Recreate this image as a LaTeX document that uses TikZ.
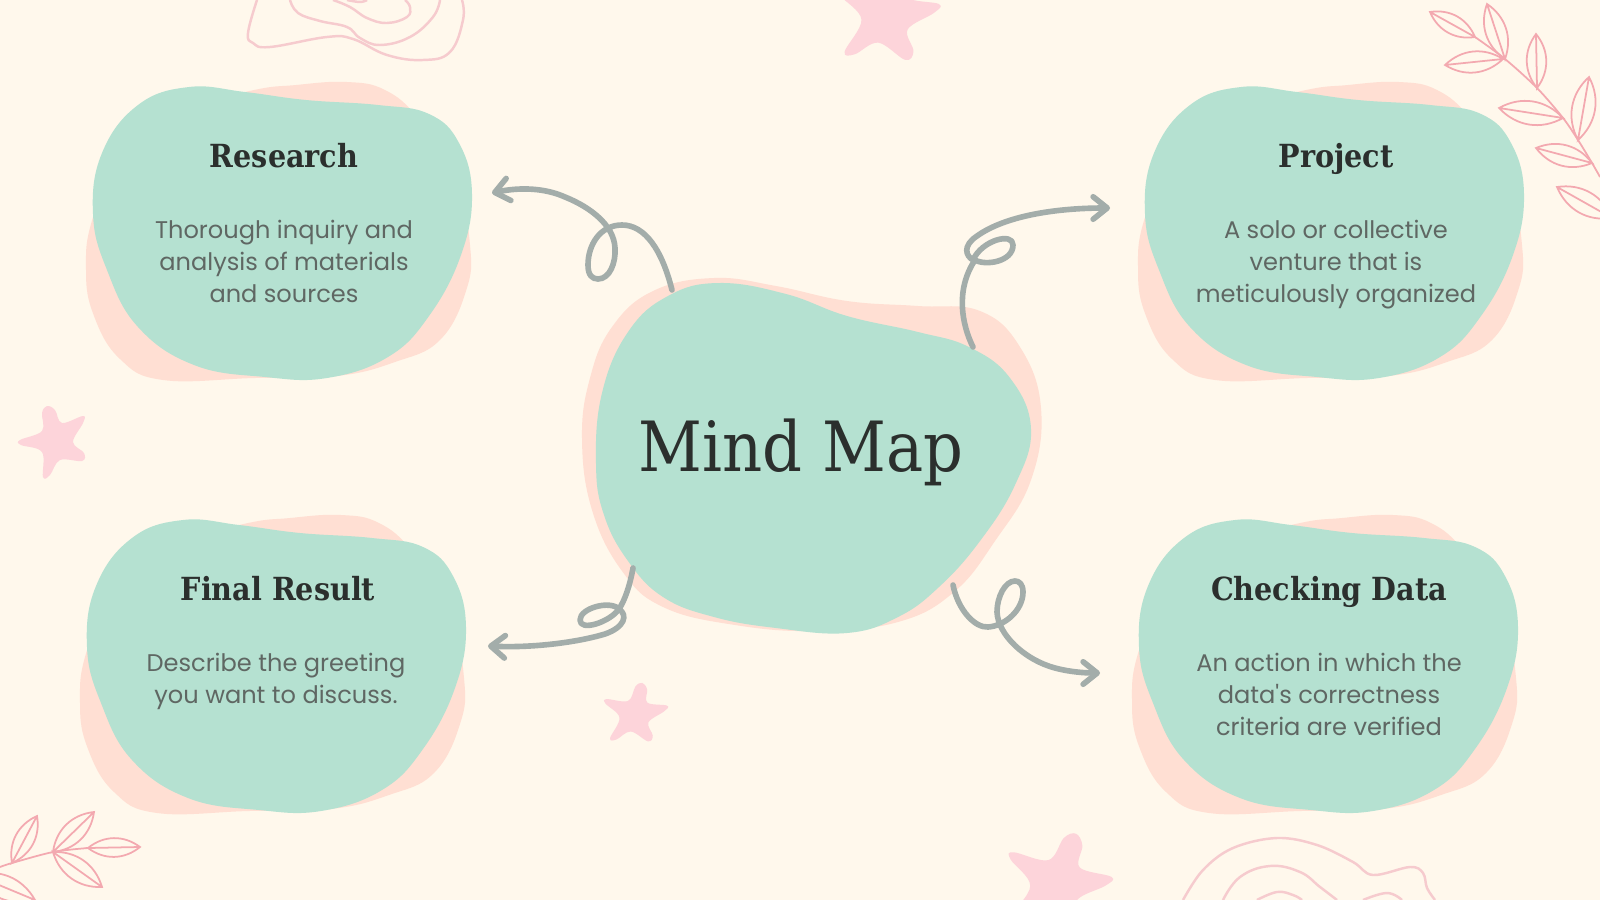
\documentclass[tikz,border=0pt]{standalone}
\usepackage{fontspec}
\usetikzlibrary{arrows.meta}
\setmainfont{Poppins}
\newfontfamily\headfont{DejaVu Serif Condensed}

\definecolor{paper}{HTML}{FFF8EC}
\definecolor{mint}{HTML}{B5E1D1}
\definecolor{peach}{HTML}{FFDFD3}
\definecolor{starpink}{HTML}{FDD4DA}
\definecolor{leafpink}{HTML}{F3A9B0}
\definecolor{swirlpink}{HTML}{F6CBCE}
\definecolor{arrowgrey}{HTML}{A3ADAA}
\definecolor{headink}{HTML}{2B2F2D}
\definecolor{bodyink}{HTML}{5F6763}

\newcommand{\leaf}[2]{\draw[leafline] (#1) to[bend left=38] (#2) to[bend left=38] (#1) -- (#2);}

\tikzset{
    blobmint/.pic={\fill[mint] plot[smooth cycle, tension=0.7] coordinates {(189,87) (245,92) (306,100) (378,105) (429,114) (459,143) (472,194) (461,255) (429,316) (388,357) (327,378) (265,377) (194,365) (138,327) (107,270) (93,214) (102,153) (138,105)};},
    blobpeach/.pic={\fill[peach] plot[smooth cycle, tension=0.7] coordinates {(245,92) (296,85) (347,82) (385,90) (418,118) (455,173) (470,245) (466,291) (440,340) (395,362) (337,376) (255,378) (163,380) (120,359) (94,316) (86,270) (94,214) (133,122)};},
    starblob/.pic={\fill[starpink] plot[smooth cycle, tension=0.6] coordinates {(-10,-28) (-5,-35) (3,-31) (10,-18) (31,-25) (31,-18) (21,1) (32,12) (30,20) (8,19) (-2,34) (-9,36) (-10,11) (-31,4) (-32,-1) (-10,-10)};}
}

\begin{document}
\begin{tikzpicture}[x=0.01cm, y=-0.01cm, >={Straight Barb[length=4pt, width=6.4pt, round]},
    heading/.style={font=\headfont\bfseries\fontsize{9.05}{11}\selectfont, text=headink, anchor=base},
    bodytext/.style={font=\fontsize{6.85}{9.2}\selectfont, text=bodyink, align=center, anchor=north, inner sep=0pt, execute at begin node=\strut},
    swirl/.style={draw=swirlpink, line width=0.7pt},
    leafline/.style={draw=leafpink, line width=0.5pt},
    link/.style={draw=arrowgrey, line width=1.6pt, line cap=round, line join=round, ->}]

    \useasboundingbox (0,0) rectangle (1600,900);
    \fill[paper] (0,0) rectangle (1600,900);

    \begin{scope}
        \clip (0,0) rectangle (1600,900);

        % Stars
        \pic at (52,441) {starblob};
        \pic[rotate=-27, scale=0.9] at (632,713) {starblob};
        \pic[rotate=-30, scale=1.45] at (882,13) {starblob};
        \pic[rotate=-35, scale=1.5] at (1052,881) {starblob};

        % Swirls
        \draw[swirl] plot[smooth, tension=0.7] coordinates {(257,0) (248,33) (253,43) (270,47) (327,37) (353,39) (387,55) (423,60) (450,52) (463,20) (462,0)};
        \draw[swirl] plot[smooth, tension=0.7] coordinates {(290,0) (298,13) (320,21) (347,27) (360,38) (380,45) (410,37) (433,17) (440,0)};
        \draw[swirl] plot[smooth, tension=0.7] coordinates {(333,0) (350,7) (367,18) (387,23) (407,17) (410,7) (405,0)};
        \draw[swirl] plot[smooth, tension=0.7] coordinates {(347,0) (360,2) (367,0)};
        \draw[swirl] plot[smooth, tension=0.6] coordinates {(1183,900) (1203,870) (1233,848) (1277,838) (1317,845) (1353,862) (1373,875) (1410,867) (1423,873) (1427,888) (1435,900)};
        \draw[swirl] plot[smooth, tension=0.7] coordinates {(1223,900) (1240,877) (1270,866) (1300,872) (1320,887) (1337,900)};
        \draw[swirl] plot[smooth, tension=0.7] coordinates {(1257,900) (1277,892) (1293,895) (1302,900)};
        \draw[swirl] plot[smooth, tension=0.7] coordinates {(1363,900) (1387,893) (1402,900)};

        % Sprigs
        \draw[leafline] plot[smooth] coordinates {(1475,37) (1505,59) (1537,88) (1563,118) (1578,140) (1592,163) (1600,177)};
        \leaf{1475,37}{1430,12}
        \leaf{1505,59}{1487,4}
        \leaf{1503,59}{1445,65}
        \leaf{1537,88}{1536,34}
        \leaf{1563,118}{1499,108}
        \leaf{1578,140}{1589,77}
        \leaf{1592,163}{1536,148}
        \leaf{1612,218}{1557,187}
        \draw[leafline] plot[smooth] coordinates {(0,867) (12,863) (53,852) (88,848)};
        \leaf{12,863}{37,816}
        \leaf{53,852}{94,812}
        \leaf{53,852}{102,887}
        \leaf{88,848}{140,847}
        \leaf{-25,875}{35,900}
    \end{scope}

    % Blobs
    \pic at (0,0) {blobpeach};
    \pic at (0,0) {blobmint};
    \pic at (1052,0) {blobpeach};
    \pic at (1052,0) {blobmint};
    \pic at (-6,433) {blobpeach};
    \pic at (-6,433) {blobmint};
    \pic at (1046,433) {blobpeach};
    \pic at (1046,433) {blobmint};
    \fill[peach] plot[smooth cycle, tension=0.7] coordinates {(714,278) (776,286) (847,301) (918,306) (980,311) (1020,347) (1041,408) (1031,480) (995,541) (954,592) (898,622) (816,631) (735,625) (663,607) (622,571) (592,510) (582,439) (590,378) (612,327) (653,291)};
    \fill[mint] plot[smooth cycle, tension=0.7] coordinates {(719,283) (786,294) (847,316) (918,332) (969,347) (1010,378) (1031,429) (1015,485) (980,541) (939,587) (898,617) (847,633) (776,628) (714,617) (663,597) (628,561) (604,515) (596,464) (602,393) (628,332) (668,296)};

    % Nodes
    \node[font=\headfont\fontsize{19.7}{24}\selectfont, text=headink, anchor=base] at (801,471) (mindmap) {Mind Map};

    \node[heading] at (284,167) (research) {Research};
    \node[bodytext] at (284,219) (researchtext) {Thorough inquiry and\\analysis of materials\\and sources};

    \node[heading] at (1336,167) (project) {Project};
    \node[bodytext] at (1336,219) (projecttext) {A solo or collective\\venture that is\\meticulously organized};

    \node[heading] at (278,600) (finalresult) {Final Result};
    \node[bodytext] at (276,652) (finaltext) {Describe the greeting\\you want to discuss.};

    \node[heading] at (1329,600) (checking) {Checking Data};
    \node[bodytext] at (1329,652) (checkingtext) {An action in which the\\data\textquotesingle s correctness\\criteria are verified};

    \coordinate (researchin) at (492,193);
    \coordinate (researchout) at (672,290);
    \coordinate (projectin) at (1110,208);
    \coordinate (projectout) at (973,347);
    \coordinate (finalin) at (488,646);
    \coordinate (finalout) at (633,568);
    \coordinate (checkingin) at (1100,673);
    \coordinate (checkingout) at (953,585);

    % Edges
    \draw[link] (researchout) .. controls (662,250) and (645,225) .. (622,225)
        .. controls (600,225) and (588,245) .. (588,265)
        .. controls (588,275) and (592,279) .. (598,279)
        .. controls (610,279) and (616,262) .. (615,248)
        .. controls (614,225) and (590,207) .. (565,197)
        .. controls (545,188) and (520,187) .. (researchin);

    \draw[link] (projectout) .. controls (962,325) and (955,290) .. (975,260)
        .. controls (985,266) and (1013,262) .. (1013,245)
        .. controls (1013,232) and (982,240) .. (973,260)
        .. controls (966,256) and (962,246) .. (977,236)
        .. controls (1005,216) and (1055,208) .. (projectin);

    \draw[link] (finalout) .. controls (630,585) and (625,600) .. (619,609)
        .. controls (610,600) and (580,608) .. (580,620)
        .. controls (580,632) and (610,622) .. (619,609)
        .. controls (628,615) and (625,627) .. (605,634)
        .. controls (575,643) and (530,648) .. (finalin);

    \draw[link] (checkingout) .. controls (958,610) and (975,628) .. (988,627)
        .. controls (1005,626) and (1023,610) .. (1023,592)
        .. controls (1023,584) and (1019,581) .. (1015,581)
        .. controls (1005,581) and (997,597) .. (997,612)
        .. controls (998,635) and (1025,660) .. (1055,668)
        .. controls (1070,672) and (1085,673) .. (checkingin);
\end{tikzpicture}
\end{document}
